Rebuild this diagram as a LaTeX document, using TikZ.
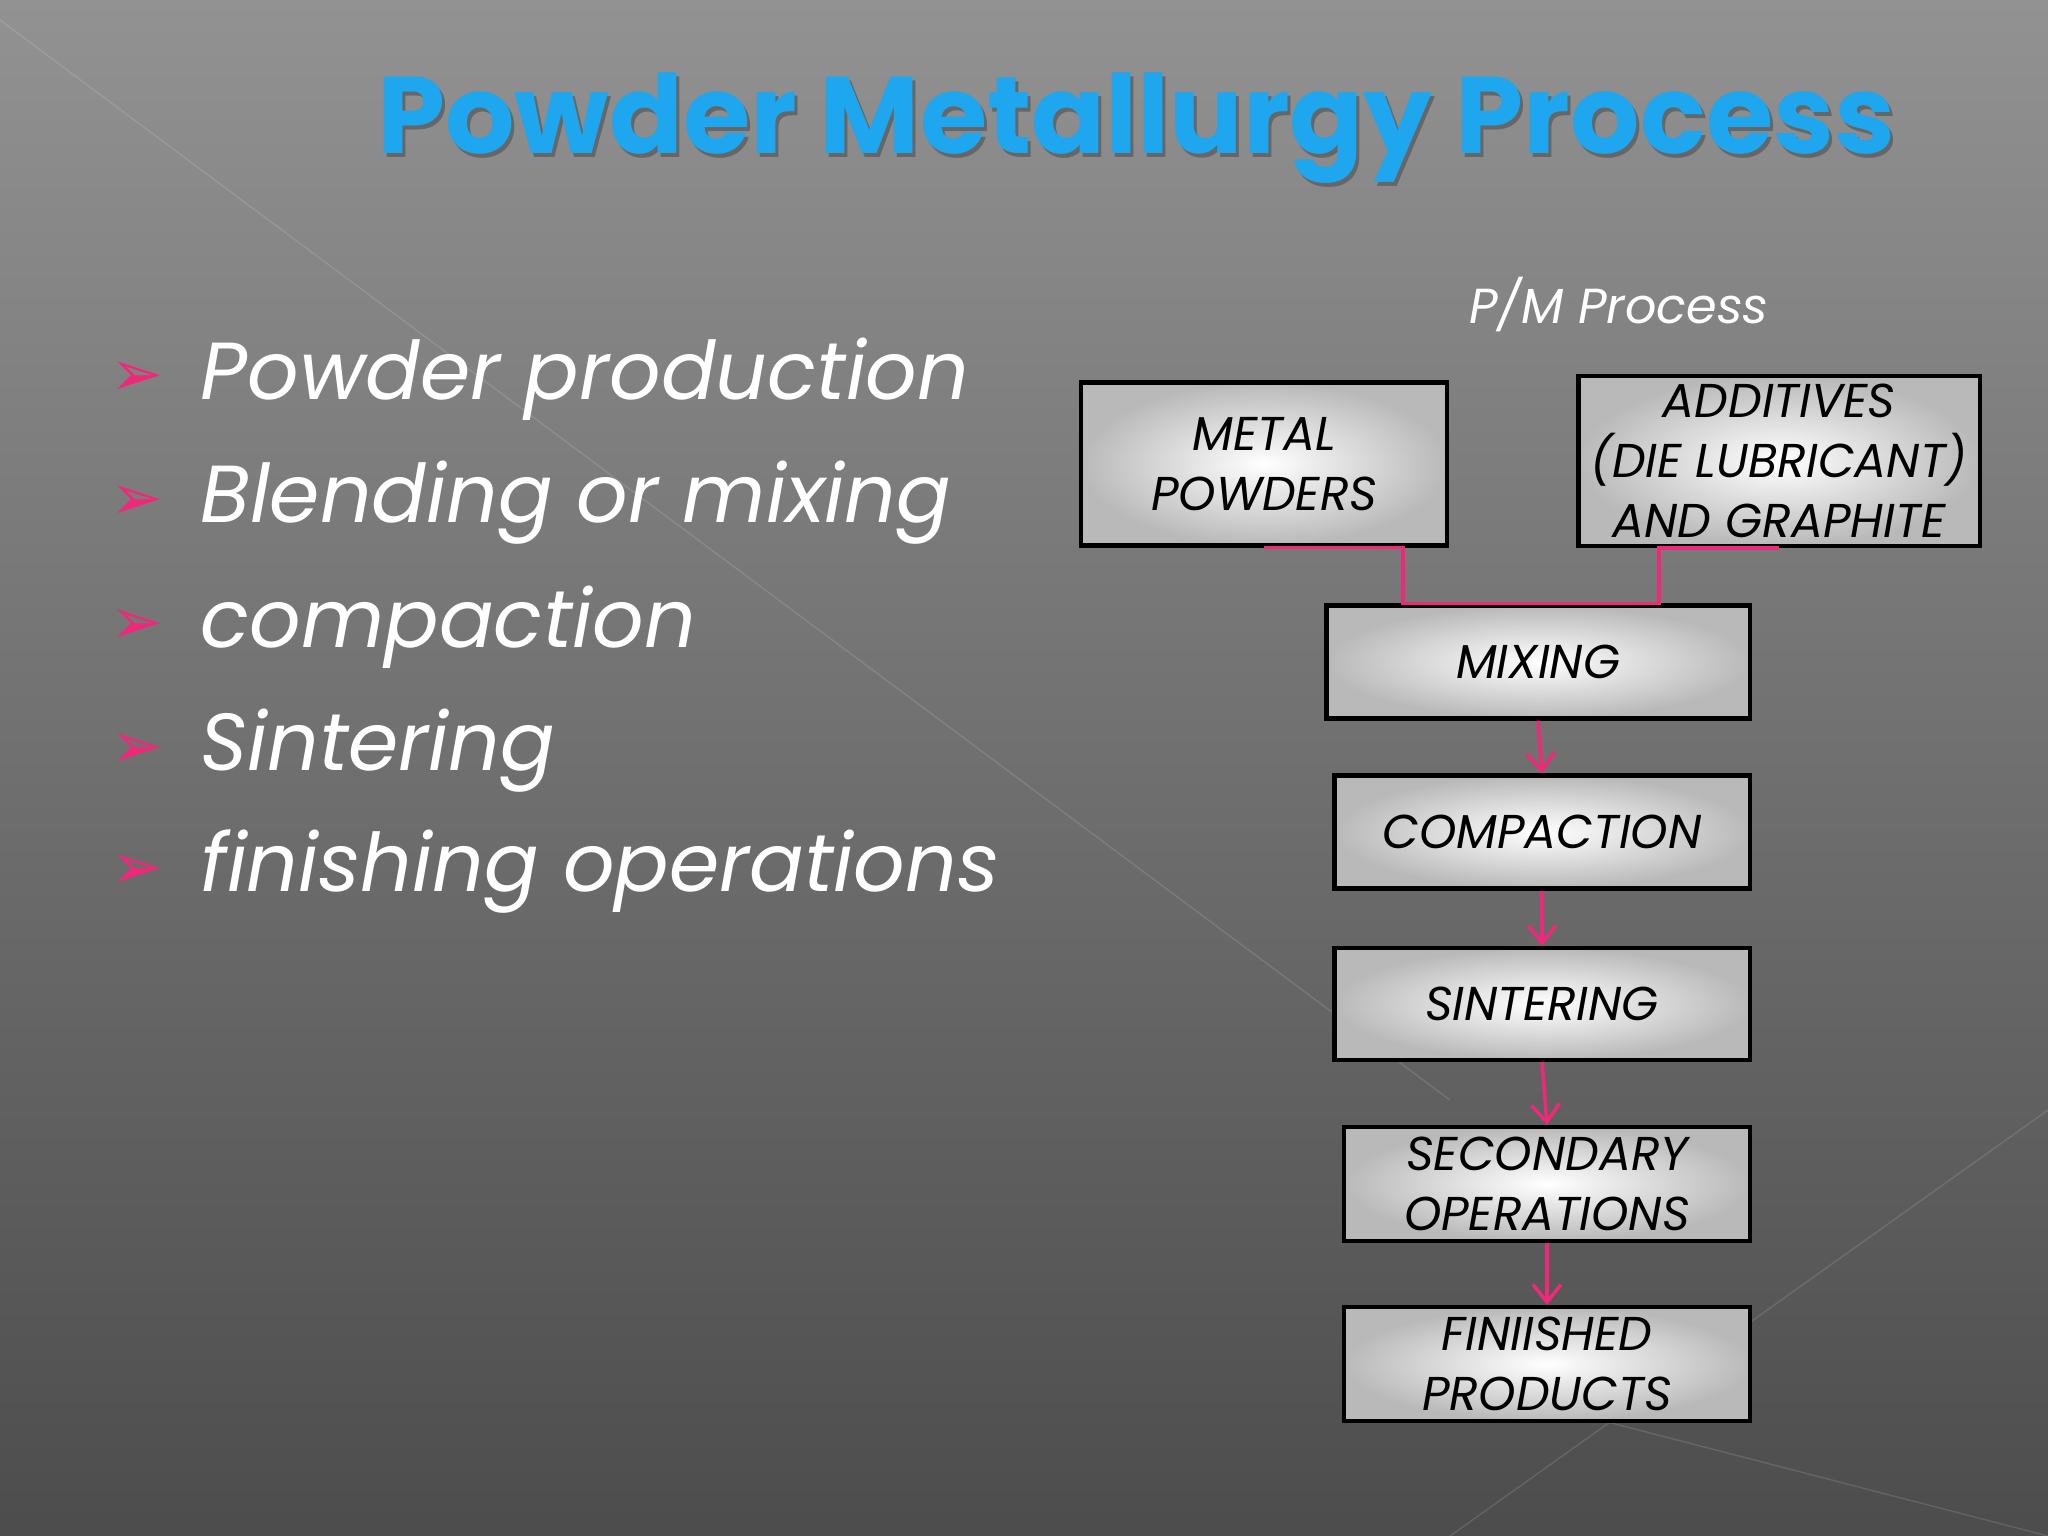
\documentclass[tikz,border=0pt]{standalone}
\usepackage{fontspec}
\setmainfont{Poppins}
\newfontfamily\djv{DejaVu Sans}
\usetikzlibrary{shadows,arrows.meta}
\definecolor{ttl}{HTML}{1EA6EE}
\definecolor{pk}{HTML}{F0287A}
\tikzset{
 pbox/.style={draw=black,line width=1.2pt,inner color=white,outer color=gray!55,
   drop shadow={shadow xshift=0pt,shadow yshift=0pt,opacity=.6,fill=black},
   font=\itshape\fontsize{13.5}{17}\selectfont,align=center,inner sep=0pt},
 conn/.style={draw=pk,line width=1pt},
 arr/.style={conn,-{Straight Barb[length=5pt,width=8pt]}},
 bul/.style={font=\itshape\fontsize{23}{28}\selectfont,text=white,anchor=west},
 bmark/.style={text=pk,font=\djv\fontsize{18}{22}\selectfont}
}
\begin{document}
\begin{tikzpicture}[x=0.01cm,y=-0.01cm]
\shade[top color=gray!90!white!95,bottom color=black!70] (0,0) rectangle (2048,1536);
\useasboundingbox (0,0) rectangle (2048,1536);
\draw[white,opacity=.12] (0,20) -- (1450,1100);
\draw[white,opacity=.12] (1450,1536) -- (2048,1110);
\draw[white,opacity=.12] (1600,1420) -- (2048,1536);
\node[text=black!60,font=\bfseries\fontsize{31}{36}\selectfont] (tshadow) at (1139,132) {Powder Metallurgy Process};
\node[text=ttl,font=\bfseries\fontsize{31}{36}\selectfont] (title) at (1136,128) {Powder Metallurgy Process};
\foreach \y/\t [count=\i] in {379/Powder production,503/Blending or mixing,627/compaction,751/Sintering,872/finishing operations}{
 \node[bmark] (m\i) at (137,\y) {\symbol{"27A2}};
 \node[bul] (b\i) at (188,\y) {\t};
}
\node[text=white,font=\itshape\fontsize{14}{17}\selectfont] (pm) at (1619,304) {P/M Process};
\node[pbox,minimum width=3.66cm,minimum height=1.63cm] (metal) at (1264,464) {METAL\\POWDERS};
\node[pbox,minimum width=4.01cm,minimum height=1.70cm] (add) at (1779,461) {ADDITIVES\\(DIE LUBRICANT)\\AND GRAPHITE};
\node[pbox,minimum width=4.23cm,minimum height=1.13cm] (mix) at (1538,662) {MIXING};
\node[pbox,minimum width=4.15cm,minimum height=1.13cm] (comp) at (1542,832) {COMPACTION};
\node[pbox,minimum width=4.15cm,minimum height=1.12cm] (sint) at (1542,1004) {SINTERING};
\node[pbox,minimum width=4.06cm,minimum height=1.14cm] (sec) at (1547,1184) {SECONDARY\\OPERATIONS};
\node[pbox,minimum width=4.06cm,minimum height=1.14cm] (fin) at (1547,1364) {FINIISHED\\PRODUCTS};
\draw[conn] (metal.south) -- ++(139,0) |- (mix.north);
\draw[conn] (add.south) -- ++(-120,0) |- (mix.north);
\draw[arr] (mix.south) -- (comp.north);
\draw[arr] (comp.south) -- (sint.north);
\draw[arr] (sint.south) -- (sec.north);
\draw[arr] (sec.south) -- (fin.north);
\end{tikzpicture}
\end{document}
